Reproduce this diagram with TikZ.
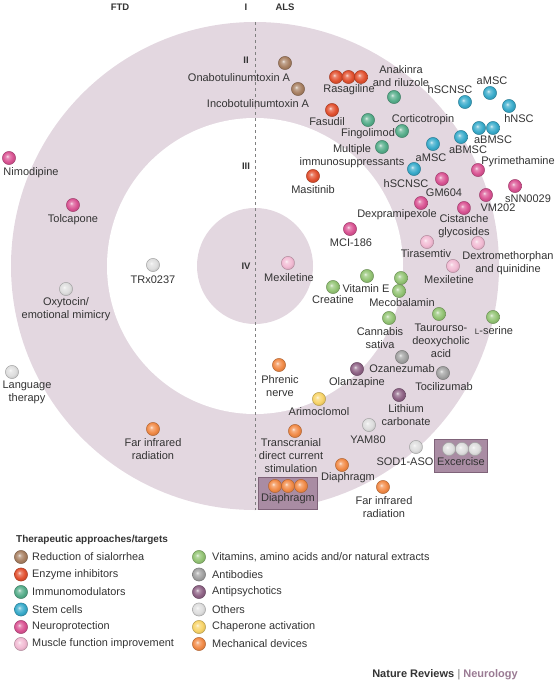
\documentclass[tikz,border=0pt]{standalone}
\usepackage{fontspec}
\setmainfont{Liberation Sans}
\definecolor{cbrown}{HTML}{A88062}
\definecolor{cred}{HTML}{E2502F}
\definecolor{cimmu}{HTML}{55AD8A}
\definecolor{cstem}{HTML}{38ABCB}
\definecolor{cneuro}{HTML}{DA5393}
\definecolor{cmusc}{HTML}{F2BAD3}
\definecolor{cvit}{HTML}{93C474}
\definecolor{cab}{HTML}{A2A2A2}
\definecolor{canti}{HTML}{8E6285}
\definecolor{coth}{HTML}{DEDEDE}
\definecolor{cchap}{HTML}{F8D468}
\definecolor{cmech}{HTML}{F28A46}
\definecolor{ringc}{HTML}{E3D7E0}
\definecolor{boxfill}{HTML}{A98CA3}
\definecolor{boxdraw}{HTML}{7F6379}
\definecolor{txt}{HTML}{333333}
\definecolor{neurc}{HTML}{9A7A93}
\colorlet{pball}{gray}
\pgfdeclareradialshading[pball]{softball}{\pgfqpoint{-7bp}{7bp}}{color(0bp)=(pball!20!white); color(7bp)=(pball!70!white); color(19bp)=(pball); color(27bp)=(pball!88!black); color(50bp)=(pball!75!black)}
\begin{document}
\begin{tikzpicture}[x=1pt,y=-1pt,
  softball/.code={\colorlet{pball}{#1}\tikzset{shading=softball}},
  ball/.style={circle, inner sep=0pt, minimum size=13.2pt, softball=#1, draw=#1!72!black, line width=0.45pt},
  lbl/.style={font=\fontsize{11}{13}\selectfont, text=txt, align=center, inner sep=0pt},
  leg/.style={font=\fontsize{10.9}{13}\selectfont, text=txt, anchor=west, inner sep=0pt},
  stage/.style={font=\fontsize{9.5}{11}\selectfont\bfseries, text=txt, inner sep=0pt},
  grpbox/.style={fill=boxfill, draw=boxdraw, line width=0.6pt}]
\useasboundingbox (0,0) rectangle (558,685);
% rings
\fill[ringc] (255,266) circle[radius=244pt];
\fill[white] (255,266) circle[radius=148pt];
\fill[ringc] (255,266) circle[radius=58pt];
\coordinate (dtop) at (255,22);
\coordinate (dbot) at (255,510);
\draw[dashed, gray, line width=0.5pt] (dtop) -- (dbot);
% headers
\node[stage] (hftd) at (120,7) {FTD};
\node[stage] (hals) at (285,7) {ALS};
\node[stage] (s1) at (246,7) {I};
\node[stage] (s2) at (246,60) {II};
\node[stage] (s3) at (246,166) {III};
\node[stage] (s4) at (246,266) {IV};
% boxes
\draw[grpbox] (258,477) rectangle (317,509);
\draw[grpbox] (434,439) rectangle (487,472);
% brown
\node[ball=cbrown] (b1) at (285,63) {};
\node[ball=cbrown] (b2) at (298,89) {};
% red
\node[ball=cred] (r1) at (336,77) {};
\node[ball=cred] (r2) at (348.5,77) {};
\node[ball=cred] (r3) at (361,77) {};
\node[ball=cred] (r4) at (332,110) {};
\node[ball=cred] (r5) at (313,176) {};
% immuno
\node[ball=cimmu] (i1) at (394,97) {};
\node[ball=cimmu] (i2) at (368,120) {};
\node[ball=cimmu] (i3) at (402,131) {};
\node[ball=cimmu] (i4) at (382,147) {};
% stem
\node[ball=cstem] (c1) at (465,102) {};
\node[ball=cstem] (c2) at (490,93) {};
\node[ball=cstem] (c3) at (509,106) {};
\node[ball=cstem] (c4) at (479,128) {};
\node[ball=cstem] (c5) at (493,128) {};
\node[ball=cstem] (c6) at (461,137) {};
\node[ball=cstem] (c7) at (433,144) {};
\node[ball=cstem] (c8) at (414,169) {};
% neuro
\node[ball=cneuro] (n1) at (9,158) {};
\node[ball=cneuro] (n2) at (73,205) {};
\node[ball=cneuro] (n3) at (478,170) {};
\node[ball=cneuro] (n4) at (442,179) {};
\node[ball=cneuro] (n5) at (515,186) {};
\node[ball=cneuro] (n6) at (486,195) {};
\node[ball=cneuro] (n7) at (464,208) {};
\node[ball=cneuro] (n8) at (421,203) {};
\node[ball=cneuro] (n9) at (350,229) {};
% muscle
\node[ball=cmusc] (m1) at (288,263) {};
\node[ball=cmusc] (m2) at (427,242) {};
\node[ball=cmusc] (m3) at (478,243) {};
\node[ball=cmusc] (m4) at (453,266) {};
% vitamins
\node[ball=cvit] (v1) at (367,276) {};
\node[ball=cvit] (v2) at (333,287) {};
\node[ball=cvit] (v3) at (401,278) {};
\node[ball=cvit] (v4) at (399,291) {};
\node[ball=cvit] (v5) at (389,318) {};
\node[ball=cvit] (v6) at (439,314) {};
\node[ball=cvit] (v7) at (493,317) {};
% antibodies
\node[ball=cab] (a1) at (402,357) {};
\node[ball=cab] (a2) at (443,373) {};
% antipsychotics
\node[ball=canti] (p1) at (357,369) {};
\node[ball=canti] (p2) at (399,395) {};
% others
\node[ball=coth] (o1) at (153,265) {};
\node[ball=coth] (o2) at (66,289) {};
\node[ball=coth] (o3) at (12,372) {};
\node[ball=coth] (o4) at (369,425) {};
\node[ball=coth] (o5) at (416,447) {};
\node[ball=coth] (o6) at (449,449) {};
\node[ball=coth] (o7) at (462,449) {};
\node[ball=coth] (o8) at (475,449) {};
% chaperone
\node[ball=cchap] (h1) at (319,399) {};
% mechanical
\node[ball=cmech] (e1) at (153,429) {};
\node[ball=cmech] (e2) at (279,365) {};
\node[ball=cmech] (e3) at (295,431) {};
\node[ball=cmech] (e4) at (342,465) {};
\node[ball=cmech] (e5) at (275,486) {};
\node[ball=cmech] (e6) at (288,486) {};
\node[ball=cmech] (e7) at (301,486) {};
\node[ball=cmech] (e8) at (383,487) {};
% labels
\node[lbl] (t1) at (239,78) {Onabotulinumtoxin A};
\node[lbl] (t2) at (258,104) {Incobotulinumtoxin A};
\node[lbl] (t3) at (349,90) {Rasagiline};
\node[lbl] (t4) at (401,76.5) {Anakinra\\and riluzole};
\node[lbl] (t5) at (450,90) {hSCNSC};
\node[lbl] (t6) at (492,81) {aMSC};
\node[lbl] (t7) at (519,119) {hNSC};
\node[lbl] (t8) at (327,122) {Fasudil};
\node[lbl] (t9) at (423,120) {Corticotropin};
\node[lbl] (t10) at (368,134) {Fingolimod};
\node[lbl] (t11) at (352,156) {Multiple\\immunosuppressants};
\node[lbl] (t12) at (431,158) {aMSC};
\node[lbl] (t13) at (468,150) {aBMSC};
\node[lbl] (t14) at (493,140) {aBMSC};
\node[lbl] (t15) at (518,162) {Pyrimethamine};
\node[lbl] (t16) at (406,184) {hSCNSC};
\node[lbl] (t17) at (444,193) {GM604};
\node[lbl] (t18) at (313,190) {Masitinib};
\node[lbl] (t19) at (528,199) {sNN0029};
\node[lbl] (t20) at (498,208) {VM202};
\node[lbl] (t21) at (464,226.5) {Cistanche\\glycosides};
\node[lbl] (t22) at (397,215) {Dexpramipexole};
\node[lbl] (t23) at (351,243) {MCI-186};
\node[lbl] (t24) at (426,254) {Tirasemtiv};
\node[lbl] (t25) at (508,263.5) {Dextromethorphan\\and quinidine};
\node[lbl] (t26) at (449,280) {Mexiletine};
\node[lbl] (t27) at (289,278) {Mexiletine};
\node[lbl] (t28) at (366,289) {Vitamin E};
\node[lbl] (t29) at (333,300) {Creatine};
\node[lbl] (t30) at (402,303) {Mecobalamin};
\node[lbl] (t31) at (380,338) {Cannabis\\sativa};
\node[lbl] (t32) at (441,340.5) {Taurourso-\\deoxycholic\\acid};
\node[lbl] (t33) at (494,331) {{\fontsize{8}{10}\selectfont L}-serine};
\node[lbl] (t34) at (402,369) {Ozanezumab};
\node[lbl] (t35) at (357,383) {Olanzapine};
\node[lbl] (t36) at (444,387) {Tocilizumab};
\node[lbl] (t37) at (280,386.5) {Phrenic\\nerve};
\node[lbl] (t38) at (319,412) {Arimoclomol};
\node[lbl] (t39) at (406,415.5) {Lithium\\carbonate};
\node[lbl] (t40) at (368,440) {YAM80};
\node[lbl] (t41) at (291,456) {Transcranial\\direct current\\stimulation};
\node[lbl] (t42) at (405,462) {SOD1-ASO};
\node[lbl] (t43) at (461,462) {Excercise};
\node[lbl] (t44) at (348,478) {Diaphragm};
\node[lbl] (t45) at (288,499) {Diaphragm};
\node[lbl] (t46) at (384,507.5) {Far infrared\\radiation};
\node[lbl] (t47) at (31,173) {Nimodipine};
\node[lbl] (t48) at (73,220) {Tolcapone};
\node[lbl] (t49) at (153,280) {TRx0237};
\node[lbl] (t50) at (66,309.5) {Oxytocin/\\emotional mimicry};
\node[lbl] (t51) at (27,392.5) {Language\\therapy};
\node[lbl] (t52) at (153,449.5) {Far infrared\\radiation};
% legend
\node[font=\fontsize{10}{12}\selectfont\bfseries, text=txt, anchor=west, inner sep=0pt] (ltitle) at (16,540) {Therapeutic approaches/targets};
\node[ball=cbrown] (lb1) at (21,557) {};
\node[ball=cred] (lb2) at (21,574.5) {};
\node[ball=cimmu] (lb3) at (21,592) {};
\node[ball=cstem] (lb4) at (21,609.5) {};
\node[ball=cneuro] (lb5) at (21,627) {};
\node[ball=cmusc] (lb6) at (21,644) {};
\node[leg] (lt1) at (32,557) {Reduction of sialorrhea};
\node[leg] (lt2) at (32,574.5) {Enzyme inhibitors};
\node[leg] (lt3) at (32,592) {Immunomodulators};
\node[leg] (lt4) at (32,609.5) {Stem cells};
\node[leg] (lt5) at (32,627) {Neuroprotection};
\node[leg] (lt6) at (32,644) {Muscle function improvement};
\node[ball=cvit] (lb7) at (199,557) {};
\node[ball=cab] (lb8) at (199,574.5) {};
\node[ball=canti] (lb9) at (199,592) {};
\node[ball=coth] (lb10) at (199,609.5) {};
\node[ball=cchap] (lb11) at (199,627) {};
\node[ball=cmech] (lb12) at (199,644) {};
\node[leg] (lt7) at (212,557) {Vitamins, amino acids and/or natural extracts};
\node[leg] (lt8) at (212,574.5) {Antibodies};
\node[leg] (lt9) at (212,592) {Antipsychotics};
\node[leg] (lt10) at (212,609.5) {Others};
\node[leg] (lt11) at (212,627) {Chaperone activation};
\node[leg] (lt12) at (212,644) {Mechanical devices};
% footer
\node[font=\fontsize{11}{13}\selectfont\bfseries, anchor=east, inner sep=0pt] (foot) at (518,675) {\textcolor{txt}{Nature Reviews} \textcolor{gray!70}{|} \textcolor{neurc}{Neurology}};
\end{tikzpicture}
\end{document}
